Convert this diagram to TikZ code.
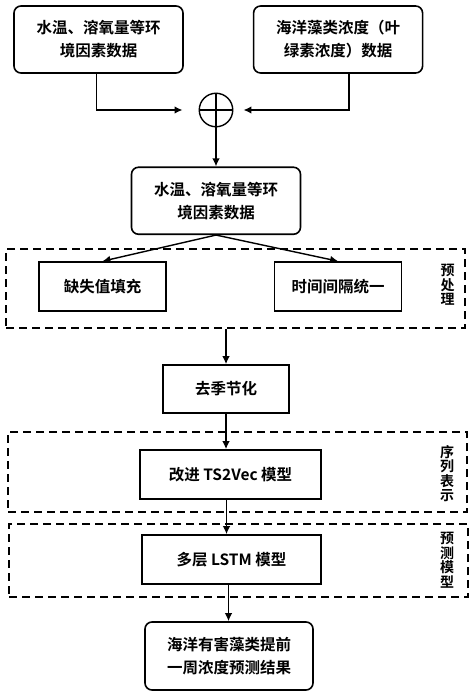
\documentclass[tikz,border=0pt]{standalone}
\usepackage{fontspec}
\setmainfont{Noto Sans CJK SC}[BoldFont={Noto Sans CJK SC Bold}]
\usetikzlibrary{arrows.meta,positioning}

\begin{document}
\begin{tikzpicture}[
    x=1pt, y=-1pt,
    every node/.style={font=\fontsize{15.5}{23}\selectfont\bfseries},
    roundbox/.style={draw, line width=1.6pt, rounded corners=7pt, align=center, minimum width=169pt, minimum height=67pt},
    plainbox/.style={draw, line width=1.6pt, align=center, minimum width=127pt, minimum height=49pt},
    group/.style={draw, line width=1.6pt, dash pattern=on 8pt off 5pt, minimum width=459pt},
    side/.style={align=center, font=\fontsize{14}{14.5}\selectfont\bfseries},
    plus/.style={draw, circle, line width=1.4pt, minimum size=33.5pt, inner sep=0pt},
    flow/.style={-{Latex[length=8pt, width=7.5pt]}, line width=1.4pt}
]
\useasboundingbox (0,0) rectangle (474,696);

% frames
\node[group, minimum height=79pt] (preframe) at (235.5,288.5) {};
\node[group, minimum height=80pt] (seqframe) at (237.5,472) {};
\node[group, minimum height=73pt] (predframe) at (238.5,560.5) {};
\node[side] (prelabel) at (447.5,285) {预\\处\\理};
\node[side] (seqlabel) at (447,473.5) {序\\列\\表\\示};
\node[side] (predlabel) at (447,560) {预\\测\\模\\型};

% inputs
\node[roundbox] (envdata) at (98.5,39.5) {水温、溶氧量等环\\境因素数据};
\node[roundbox, right=69pt of envdata] (algae) {海洋藻类浓度（叶\\绿素浓度）数据};
\node[plus] (merge) at (216,110) {};
\draw[line width=1.4pt] (merge.north) -- (merge.south) (merge.west) -- (merge.east);
\node[roundbox, below=39pt of merge] (envmerged) {水温、溶氧量等环\\境因素数据};

% preprocessing
\node[plainbox] (fill) at (102.5,286.5) {缺失值填充};
\node[plainbox, right=107pt of fill] (interval) {时间间隔统一};
\node[plainbox, minimum width=126pt, minimum height=48pt] (deseason) at (226,389) {去季节化};

% models
\node[plainbox, minimum width=181pt] (ts2vec) at (230.5,474.5) {改进 TS2Vec 模型};
\node[plainbox, minimum width=179pt] (lstm) at (231.5,559.5) {多层 LSTM 模型};
\node[roundbox, minimum width=168pt, minimum height=68pt] (result) at (229,656) {海洋有害藻类提前\\一周浓度预测结果};

\draw[flow, shorten >=16pt] ([xshift=-2pt]envdata.south) |- (merge.west);
\draw[flow, shorten >=10pt] ([xshift=11pt]algae.south) |- (merge.east);
\draw[flow] (merge) -- (envmerged);
\draw[flow] (envmerged.south) -- (fill.north);
\draw[flow] (envmerged.south) -- (interval.north);
\draw[flow] (preframe.south -| deseason.north) -- (deseason.north);
\draw[flow] (deseason.south) -- (deseason.south |- ts2vec.north);
\draw[flow] ([xshift=-4pt]ts2vec.south) -- ([xshift=-4pt]ts2vec.south |- lstm.north);
\draw[flow] ([xshift=-3pt]lstm.south) -- ([xshift=-3pt]lstm.south |- result.north);
\end{tikzpicture}
\end{document}
